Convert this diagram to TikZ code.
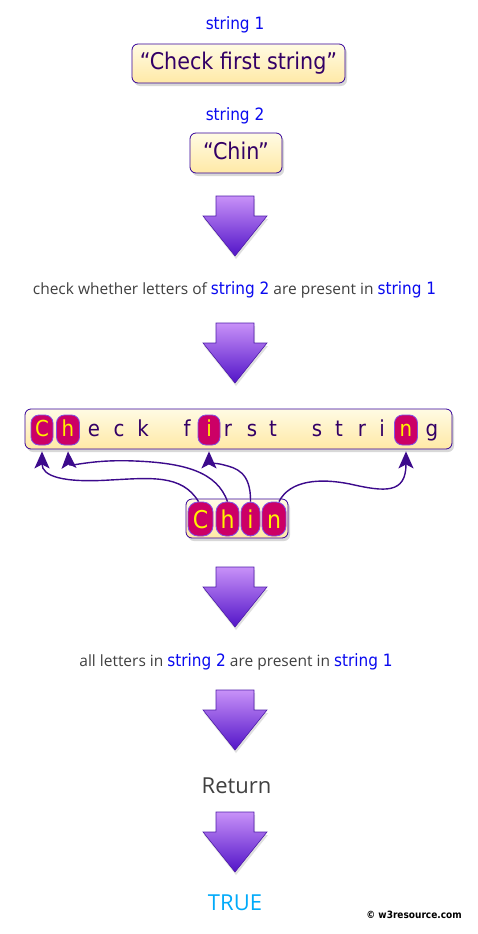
\documentclass[tikz,border=0pt]{standalone}
\usepackage{fontspec}
\setmainfont{Open Sans}
\newfontfamily\condfont{DejaVu Sans Condensed}
\usetikzlibrary{arrows.meta,shadows}
\definecolor{strblue}{RGB}{10,10,240}
\definecolor{boxline}{RGB}{51,0,153}
\definecolor{boxtext}{RGB}{51,0,102}
\definecolor{boxtop}{RGB}{255,251,228}
\definecolor{boxbot}{RGB}{255,233,166}
\definecolor{pillfill}{RGB}{204,0,102}
\definecolor{pillline}{RGB}{130,80,230}
\definecolor{arrtop}{RGB}{200,145,248}
\definecolor{arrbot}{RGB}{82,20,200}
\definecolor{arrline}{RGB}{80,30,170}
\definecolor{linkcol}{RGB}{60,10,140}
\definecolor{graytext}{RGB}{64,64,64}
\definecolor{truecol}{RGB}{0,170,250}
\newcommand{\strref}[1]{\textcolor{strblue}{\condfont\fontsize{17}{20}\selectfont #1}}
\tikzset{
  bigarrow/.pic={
    \path[arrowbody] (-19,0) -- (19,0) -- (19,20) -- (32,20) -- (0,60)
      -- (-32,20) -- (-19,20) -- cycle;
  }
}
\begin{document}
\begin{tikzpicture}[x=1pt,y=-1pt,
    arrowbody/.style={draw=arrline,line width=0.6pt,top color=arrtop,bottom color=arrbot,
      drop shadow={opacity=0.25,shadow xshift=1pt,shadow yshift=-3pt}},
    strbox/.style={draw=boxline,line width=0.8pt,rounded corners=6pt,
      top color=boxtop,bottom color=boxbot,text=boxtext,inner sep=0pt,
      font=\condfont\fontsize{23}{27}\selectfont,text height=17pt,text depth=4pt,
      drop shadow={opacity=0.3,shadow xshift=2pt,shadow yshift=-3pt}},
    strlabel/.style={text=strblue,font=\condfont\fontsize{17}{20}\selectfont,inner sep=0pt,anchor=base},
    letter/.style={text=boxtext,inner sep=0pt,font=\condfont\fontsize{22}{26}\selectfont,
      text height=16pt,text depth=4pt},
    pill/.style={draw=pillline,line width=0.8pt,fill=pillfill,text=yellow,
      rounded corners=8pt,inner sep=0pt},
    bigpill/.style={pill,rounded corners=10pt,font=\condfont\fontsize{24.5}{28}\selectfont,
      text height=18pt,text depth=0pt,minimum height=34pt},
    link/.style={draw=linkcol,line width=1.4pt,
      -{Stealth[length=17pt,width=15pt,inset=4pt,fill=linkcol]}},
    note/.style={text=graytext,font=\fontsize{15.5}{18}\selectfont,inner sep=0pt,anchor=base},
    result/.style={font=\fontsize{22}{26}\selectfont,inner sep=0pt,anchor=base}]
  \fill[white] (0,0) rectangle (477,934);

  % the two strings
  \node[strlabel] (lbl1) at (235,29.5) {string 1};
  \node[strbox,minimum width=213pt,minimum height=39pt] (str1) at (238.5,63.5) {“Check first string”};
  \node[strlabel] (lbl2) at (235,120.7) {string 2};
  \node[strbox,minimum width=92pt,minimum height=40pt] (str2) at (236,153) {“Chin”};

  \pic (arr1) at (235,196) {bigarrow};
  \node[note] (step1) at (234.5,294.3) {check whether letters of \strref{string 2} are present in \strref{string 1}};
  \pic (arr2) at (235,323) {bigarrow};

  % string 1 letter by letter
  \node[strbox,minimum width=427pt,minimum height=40pt] (str1long) at (238.5,429) {};
  \foreach \ch/\xx in {e/94,c/119,k/143,f/187,r/228,s/252,t/273,s/317,t/339,r/362,i/382,g/432}
    \node[letter] at (\xx,430) {\ch};
  \node[pill,letter,text=yellow,minimum width=22pt,minimum height=30pt] (lc) at (42,430) {C};
  \node[pill,letter,text=yellow,minimum width=23pt,minimum height=30pt] (lh) at (68,430) {h};
  \node[pill,letter,text=yellow,minimum width=22pt,minimum height=30pt] (li) at (209,430) {i};
  \node[pill,letter,text=yellow,minimum width=23pt,minimum height=30pt] (ln) at (406,430) {n};

  % string 2 letter by letter
  \node[strbox,minimum width=102pt,minimum height=39pt] (str2long) at (237,518.5) {};
  \node[bigpill,minimum width=25pt] (sc) at (200.5,519) {C};
  \node[bigpill,minimum width=23pt] (sh) at (227.5,519) {h};
  \node[bigpill,minimum width=19pt] (si) at (250.5,519) {i};
  \node[bigpill,minimum width=24pt] (sn) at (274,519) {n};

  \draw[link] ([xshift=-2pt]sc.north) .. controls (182,474) and (150,478) .. (110,480)
    .. controls (62,483) and (42,476) .. ([yshift=-6pt]lc.south);
  \draw[link] (sh.north) .. controls (217,472) and (185,463) .. (135,461)
    .. controls (88,459) and (69,468) .. ([yshift=-6pt]lh.south);
  \draw[link] (si.north) .. controls (251,472) and (236,468) .. (224,465)
    .. controls (213,462) and (209,464) .. ([yshift=-6pt]li.south);
  \draw[link] ([xshift=5pt]sn.north) .. controls (290,480) and (320,478) .. (350,484)
    .. controls (385,492) and (406,494) .. ([yshift=-6pt]ln.south);

  \pic (arr3) at (235,567) {bigarrow};
  \node[note] (step2) at (236,666.7) {all letters in \strref{string 2} are present in \strref{string 1}};
  \pic (arr4) at (235,690) {bigarrow};
  \node[result,text=graytext] (ret) at (236.5,793) {Return};
  \pic (arr5) at (235,812) {bigarrow};
  \node[result,text=truecol] (res) at (235,910) {TRUE};
  \node[inner sep=0pt,anchor=base,font=\condfont\bfseries\fontsize{10}{12}\selectfont] (credit) at (414,918) {© w3resource.com};
\end{tikzpicture}
\end{document}
